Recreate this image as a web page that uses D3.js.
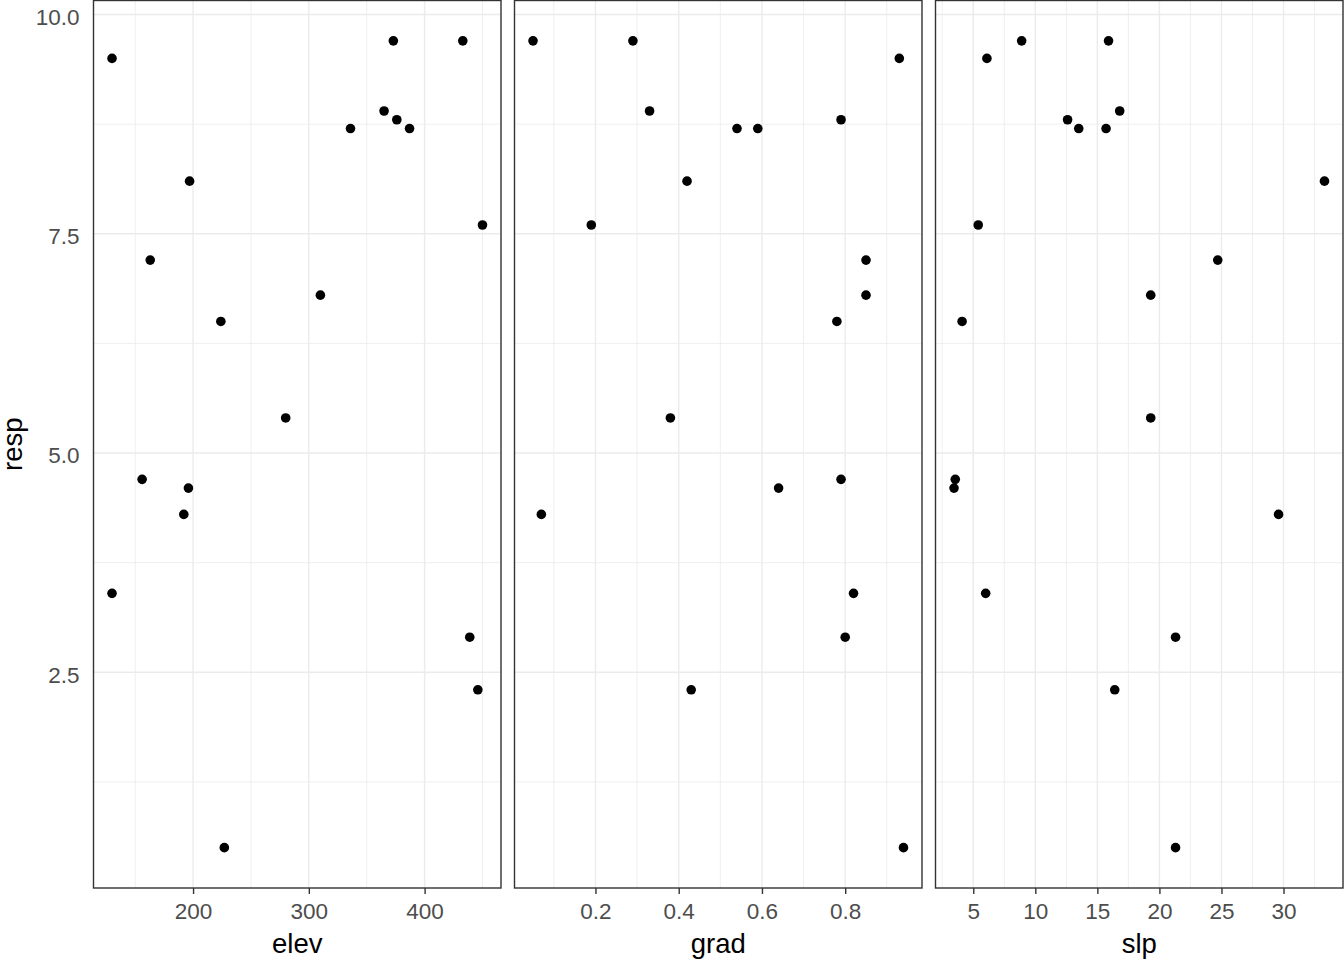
<html>
<head>
	<title>resp vs elev / grad / slp</title>
	<style>
		body { margin: 0; background: white; }
		text { font-family: "Liberation Sans", Arial, sans-serif; }
	</style>
</head>
<body>
	<script src="https://cdnjs.cloudflare.com/ajax/libs/d3/7.8.5/d3.min.js"></script>
	<script type="text/javascript">
		// one row per site, same order in every array
		var resp = [9.7, 9.7, 9.5, 8.9, 8.8, 8.7, 8.7, 8.1, 7.6, 7.2, 6.8, 6.5, 5.4, 4.7, 4.6, 4.3, 3.4, 2.9, 2.3, 0.5];
		var elev = [373, 433, 130, 365, 376, 336, 387, 197, 450, 163, 310, 224, 280, 156, 196, 192, 130, 439, 446, 227];
		var grad = [0.05, 0.29, 0.93, 0.33, 0.79, 0.54, 0.59, 0.42, 0.19, 0.85, 0.85, 0.78, 0.38, 0.79, 0.64, 0.07, 0.82, 0.80, 0.43, 0.94];
		var slp  = [8.9, 15.9, 6.1, 16.8, 12.6, 13.5, 15.7, 33.3, 5.4, 24.7, 19.3, 4.1, 19.3, 3.55, 3.45, 29.6, 6.0, 21.3, 16.4, 21.3];

		var respTicks = [2.5, 5.0, 7.5, 10.0];
		var elevTicks = [200, 300, 400];
		var gradTicks = [0.2, 0.4, 0.6, 0.8];
		var slpTicks  = [5, 10, 15, 20, 25, 30];

		var panels = [
			{name: "elev", values: elev, ticks: elevTicks, fmt: d3.format("d")},
			{name: "grad", values: grad, ticks: gradTicks, fmt: d3.format(".1f")},
			{name: "slp",  values: slp,  ticks: slpTicks,  fmt: d3.format("d")}
		];

		var W = 1344, H = 960;
		var plotTop = 0.5, plotBottom = 888;
		var left0 = 93.5, pw = 407.5, gap = 13.5;
		var gridCol = "#EBEBEB", inkCol = "#333333", labCol = "#4D4D4D";

		var svg = d3.select("body").append("svg")
					.attr("width", W)
					.attr("height", H);
		svg.append("rect").attr("width", W).attr("height", H).style("fill", "white");

		// ggplot style 5% expansion
		function expand(ext){
			var r = ext[1] - ext[0];
			return [ext[0] - 0.05*r, ext[1] + 0.05*r];
		}
		function minors(ticks, dom){
			var step = ticks[1] - ticks[0], out = [];
			for(var v = ticks[0] - step/2; v <= ticks[ticks.length-1] + step; v += step){
				if(v >= dom[0] && v <= dom[1]) out.push(v);
			}
			return out;
		}

		var y = d3.scaleLinear().domain(expand(d3.extent(resp))).range([plotBottom, plotTop]);
		var yMinor = minors(respTicks, y.domain());

		panels.forEach(function(p, i){
			var x0 = left0 + i*(pw + gap);
			var x = d3.scaleLinear().domain(expand(d3.extent(p.values))).range([x0, x0 + pw]);
			var xMinor = minors(p.ticks, x.domain());
			var g = svg.append("g");

			// grid
			g.selectAll(".ymin").data(yMinor).enter().append("line")
				.attr("x1", x0).attr("x2", x0 + pw)
				.attr("y1", function(d){ return y(d); }).attr("y2", function(d){ return y(d); })
				.style("stroke", gridCol).style("stroke-width", "0.8px");
			g.selectAll(".xmin").data(xMinor).enter().append("line")
				.attr("y1", plotTop).attr("y2", plotBottom)
				.attr("x1", function(d){ return x(d); }).attr("x2", function(d){ return x(d); })
				.style("stroke", gridCol).style("stroke-width", "0.8px");
			g.selectAll(".ymaj").data(respTicks).enter().append("line")
				.attr("x1", x0).attr("x2", x0 + pw)
				.attr("y1", function(d){ return y(d); }).attr("y2", function(d){ return y(d); })
				.style("stroke", gridCol).style("stroke-width", "1.4px");
			g.selectAll(".xmaj").data(p.ticks).enter().append("line")
				.attr("y1", plotTop).attr("y2", plotBottom)
				.attr("x1", function(d){ return x(d); }).attr("x2", function(d){ return x(d); })
				.style("stroke", gridCol).style("stroke-width", "1.4px");

			// points
			g.selectAll("circle").data(p.values).enter().append("circle")
				.attr("cx", function(d){ return x(d); })
				.attr("cy", function(d, j){ return y(resp[j]); })
				.attr("r", 4.8)
				.style("fill", "black");

			// panel border
			g.append("rect")
				.attr("x", x0).attr("y", plotTop)
				.attr("width", pw).attr("height", plotBottom - plotTop)
				.style("fill", "none")
				.style("stroke", inkCol)
				.style("stroke-width", "1.4px");

			// x axis
			var ax = svg.append("g")
				.attr("transform", "translate(0," + plotBottom + ")")
				.call(d3.axisBottom(x).tickValues(p.ticks).tickFormat(p.fmt).tickSizeOuter(0).tickSizeInner(6).tickPadding(9.5));
			ax.select(".domain").remove();
			ax.selectAll("line").style("stroke", inkCol).style("stroke-width", "1.4px");
			ax.selectAll("text")
				.style("fill", labCol)
				.style("font-size", "22.5px")
				.style("font-family", "'Liberation Sans', Arial, sans-serif");

			svg.append("text")
				.attr("x", x0 + pw/2)
				.attr("y", 952.5)
				.attr("text-anchor", "middle")
				.style("font-size", "27.5px")
				.style("fill", "black")
				.text(p.name);
		});

		// y axis, no tick marks
		var ay = svg.append("g")
			.attr("transform", "translate(" + left0 + ",0)")
			.call(d3.axisLeft(y).tickValues(respTicks).tickFormat(d3.format(".1f")).tickSizeOuter(0).tickSizeInner(0).tickPadding(14));
		ay.select(".domain").remove();
		ay.selectAll("line").remove();
		ay.selectAll("text")
			.attr("dy", "0.44em")
			.style("fill", labCol)
			.style("font-size", "22.5px")
			.style("font-family", "'Liberation Sans', Arial, sans-serif");

		svg.append("text")
			.attr("transform", "translate(22," + ((plotTop + plotBottom)/2) + ") rotate(-90)")
			.attr("text-anchor", "middle")
			.style("font-size", "27.5px")
			.style("fill", "black")
			.text("resp");
	</script>
</body>
</html>
